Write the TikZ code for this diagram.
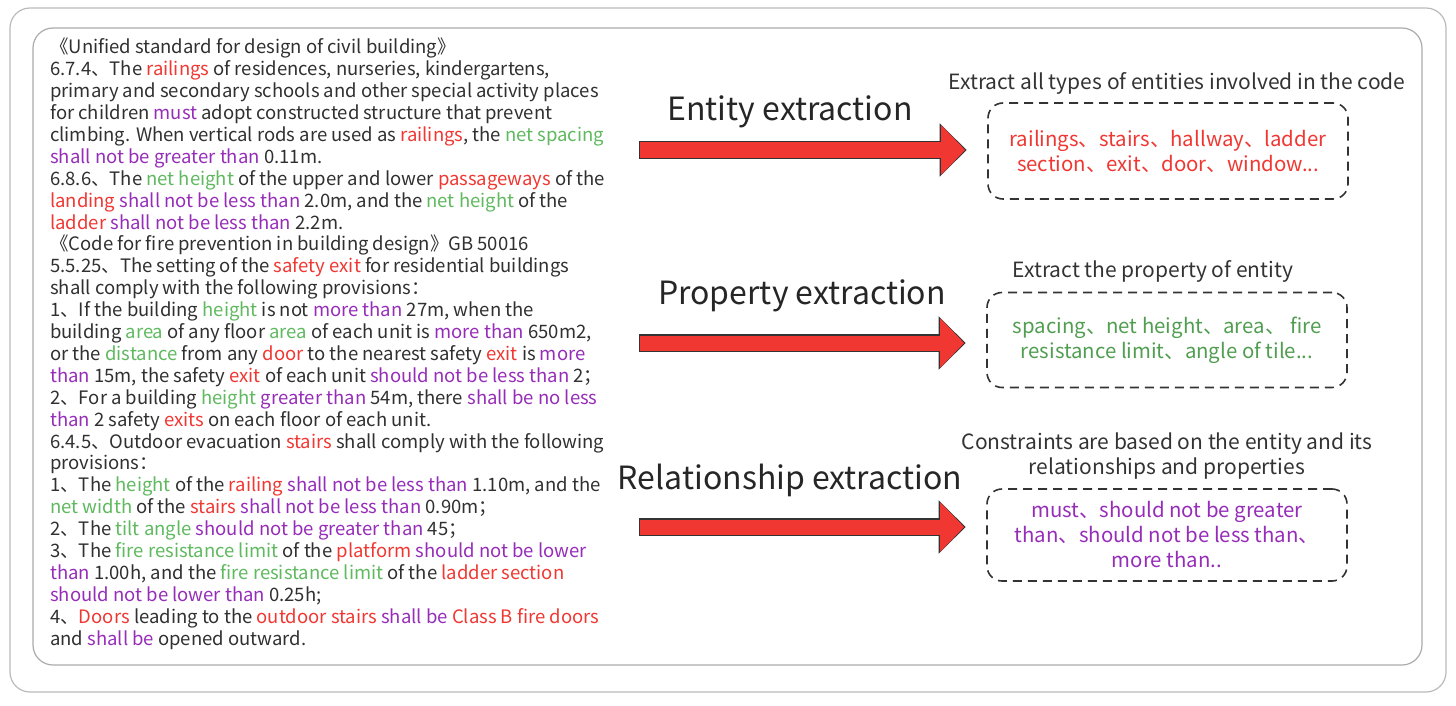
\documentclass[tikz,border=0pt]{standalone}
\usepackage{fontspec}
\setmainfont{Noto Sans CJK SC}
\usetikzlibrary{arrows.meta,positioning}
\definecolor{kred}{RGB}{240,55,50}
\definecolor{kgreen}{RGB}{95,185,95}
\definecolor{kpurple}{RGB}{150,45,185}
\definecolor{ktext}{RGB}{48,48,48}
\newcommand{\rd}[1]{\textcolor{kred}{#1}}
\newcommand{\gr}[1]{\textcolor{kgreen}{#1}}
\newcommand{\pu}[1]{\textcolor{kpurple}{#1}}

\begin{document}
\begin{tikzpicture}[x=1pt,y=-1pt,
  frame/.style={draw=black!27,line width=1.2pt,rounded corners=20pt},
  code/.style={align=left,anchor=north west,inner sep=0pt,text=ktext,
               font=\fontsize{18.5}{21.9}\selectfont},
  head/.style={text=black!85,inner sep=0pt,font=\fontsize{32}{38}\selectfont},
  note/.style={text=black!80,inner sep=0pt,align=center,
               font=\fontsize{21}{24.5}\selectfont},
  dbox/.style={draw=black!80,line width=1.6pt,dash pattern=on 9pt off 6pt,
               rounded corners=15pt,minimum width=360pt,align=center,
               font=\fontsize{20.4}{25}\selectfont},
  fat/.style={draw=kred,line width=15pt,shorten >=22pt,
              -{Triangle[length=24pt,width=48pt]},
              preaction={draw=black!80,line width=17.5pt,shorten >=20.5pt,
                         shorten <=-1pt,-{Triangle[length=27pt,width=51.5pt]}}}]
\useasboundingbox (0,0) rectangle (1456,706);
\draw[frame] (10,8) rectangle (1446,692);
\draw[frame,draw=black!33] (33,28) rectangle (1422,665);

% building codes
\node[code] (codes) at (50,38) {%
《Unified standard for design of civil building》\\
6.7.4、The \rd{railings} of residences, nurseries, kindergartens,\\
primary and secondary schools and other special activity places\\
for children \pu{must} adopt constructed structure that prevent\\
climbing. When vertical rods are used as \rd{railings}, the \gr{net spacing}\\
\pu{shall not be greater than} 0.11m.\\
6.8.6、The \gr{net height} of the upper and lower \rd{passageways} of the\\
\rd{landing} \pu{shall not be less than} 2.0m, and the \gr{net height} of the\\
\rd{ladder} \pu{shall not be less than} 2.2m.\\
《Code for fire prevention in building design》GB 50016\\
5.5.25、The setting of the \rd{safety exit} for residential buildings\\
shall comply with the following provisions：\\
1、If the building \gr{height} is not \pu{more than} 27m, when the\\
building \gr{area} of any floor \gr{area} of each unit is \pu{more than} 650m2,\\
or the \gr{distance} from any \rd{door} to the nearest safety \rd{exit} is \pu{more}\\
\pu{than} 15m, the safety \rd{exit} of each unit \pu{should not be less than} 2；\\
2、For a building \gr{height} \pu{greater than} 54m, there \pu{shall be no less}\\
\pu{than} 2 safety \rd{exits} on each floor of each unit.\\
6.4.5、Outdoor evacuation \rd{stairs} shall comply with the following\\
provisions：\\
1、The \gr{height} of the \rd{railing} \pu{shall not be less than} 1.10m, and the\\
\gr{net width} of the \rd{stairs} \pu{shall not be less than} 0.90m；\\
2、The \gr{tilt angle} \pu{should not be greater than} 45；\\
3、The \gr{fire resistance limit} of the \rd{platform} \pu{should not be lower}\\
\pu{than} 1.00h, and the \gr{fire resistance limit} of the \rd{ladder section}\\
\pu{should not be lower than} 0.25h;\\
4、\rd{Doors} leading to the \rd{outdoor stairs} \pu{shall be} \rd{Class B fire doors}\\
and \pu{shall be} opened outward.};

% three extraction steps
\node[head] (ehead) at (790,112) {Entity extraction};
\node[head] (phead) at (802,296) {Property extraction};
\node[head] (rhead) at (790,480) {Relationship extraction};

\node[dbox,minimum height=96pt,text=kred] (ebox) at (1168,151)
  {railings、stairs、hallway、ladder\\section、exit、door、window...};
\node[dbox,minimum height=95pt,text=kgreen!85!black] (pbox) at (1167,340)
  {spacing、net height、area、 fire\\resistance limit、angle of tile...};
\node[dbox,minimum height=92pt,text=kpurple] (rbox) at (1167,535)
  {must、should not be greater\\than、should not be less than、\\more than..};

\node[note,above=8pt of ebox,xshift=9pt] (enote)
  {Extract all types of entities involved in the code};
\node[note,above=9pt of pbox,xshift=-14pt] (pnote)
  {Extract the property of entity};
\node[note,above=9pt of rbox] (rnote)
  {Constraints are based on the entity and its\\relationships and properties};

\coordinate (ea) at (640,150);
\coordinate (pa) at (640,343);
\coordinate (ra) at (640,527);
\draw[fat] (ea) -- (ea -| ebox.west);
\draw[fat] (pa) -- (pa -| pbox.west);
\draw[fat] (ra) -- (ra -| rbox.west);
\end{tikzpicture}
\end{document}
